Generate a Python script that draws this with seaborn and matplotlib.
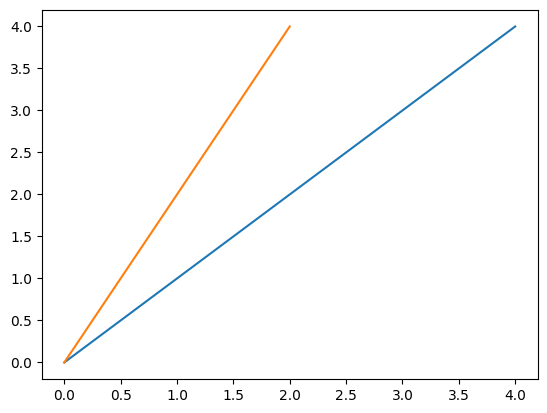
import matplotlib
matplotlib.use("Agg")
import matplotlib.pyplot as plt
import seaborn as sns
import pandas as pd

blue_x = [0, 1, 2, 3, 4]
blue_y = [0, 1, 2, 3, 4]
orange_x = [0, 0.5, 1, 1.5, 2]
orange_y = [0, 1, 2, 3, 4]

fig, ax = plt.subplots(figsize=(6.4, 4.8), dpi=100)
sns.lineplot(x=blue_x, y=blue_y, ax=ax, color="#1f77b4")
sns.lineplot(x=orange_x, y=orange_y, ax=ax, color="#ff7f0e")
fig.savefig("out.png", dpi=100, bbox_inches="tight")
